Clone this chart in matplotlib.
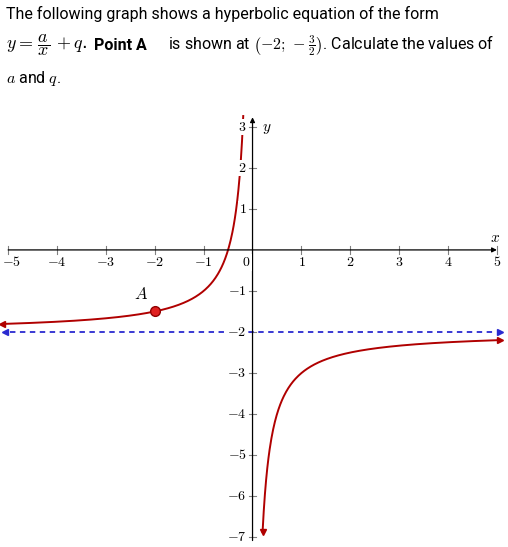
import numpy as np
import matplotlib.pyplot as plt

plt.rcParams['mathtext.fontset'] = 'cm'

a = -1
q = -2
point_a = (-2, -1.5)
x_ticks = [-5, -4, -3, -2, -1, 1, 2, 3, 4, 5]
y_ticks = [-7, -6, -5, -4, -3, -2, -1, 1, 2, 3]

fig = plt.figure(figsize=(5.08, 5.47), dpi=100)

# question text
fig.text(0.012, 0.975, "The following graph shows a hyperbolic equation of the form",
         fontsize=11.5, family='Roboto', va='center')
fig.text(0.012, 0.917, r"$y=\,\dfrac{a}{x}\,+q$.", fontsize=13, va='center')
fig.text(0.185, 0.917, "Point A", fontsize=11.5, family='Roboto', weight='bold', va='center')
fig.text(0.33, 0.917, r"is shown at $\left(-2;\,-\frac{3}{2}\right)$. Calculate the values of",
         fontsize=11.5, family='Roboto', va='center')
fig.text(0.012, 0.857, r"$a$ and $q$.", fontsize=11.5, family='Roboto', va='center')

ax = fig.add_axes([0, 0, 1, 437 / 547])
ax.set_xlim(-5.16, 5.22)
ax.set_ylim(-7.24, 3.41)
ax.axis('off')

# axes
ax.annotate('', xy=(5.05, 0), xytext=(-5.05, 0),
            arrowprops=dict(arrowstyle='-|>', color='black', lw=0.9, mutation_scale=7))
ax.annotate('', xy=(0, 3.3), xytext=(0, -7.15),
            arrowprops=dict(arrowstyle='-|>', color='black', lw=0.9, mutation_scale=7))
ax.text(4.85, 0.2, r'$x$', fontsize=11)
ax.text(0.2, 2.9, r'$y$', fontsize=11)

for t in x_ticks:
    ax.plot([t, t], [-0.1, 0.1], color='gray', lw=0.8)
    lx = -4.92 if t == -5 else t
    ax.text(lx, -0.3, r'$%d$' % t if t > 0 else r'$-%d$' % -t, ha='center', va='center', fontsize=10)
ax.text(-0.13, -0.3, r'$0$', ha='center', va='center', fontsize=10,
        bbox=dict(boxstyle='square,pad=0.1', fc='white', ec='none'))
for t in y_ticks:
    ax.plot([-0.08, 0.08], [t, t], color='gray', lw=0.8)
    ax.text(-0.12, t, r'$%d$' % t if t > 0 else r'$-%d$' % -t, ha='right', va='center', fontsize=10,
            bbox=dict(boxstyle='square,pad=0.05', fc='white', ec='none'))

# asymptote
ax.plot([-4.95, 4.95], [q, q], color='#2a2ad0', ls=(0, (3, 2.5)), lw=1.3)
ax.plot([-5.05], [q], marker='<', color='#2a2ad0', ms=4)
ax.plot([5.05], [q], marker='>', color='#2a2ad0', ms=4)

# hyperbola
xl = np.linspace(-5.1, -0.19, 400)
xr = np.linspace(0.205, 5.0, 400)
ax.plot(xl, a / xl + q, color='#b00000', lw=1.4)
ax.plot(xr, a / xr + q, color='#b00000', lw=1.4)
ax.plot([-5.12], [a / -5.12 + q], marker='<', color='#b00000', ms=4)
ax.plot([5.05], [a / 5.05 + q], marker='>', color='#b00000', ms=4)
ax.plot([0.205], [a / 0.205 + q], marker='v', color='#b00000', ms=4)

ax.plot(*point_a, 'o', color='#e02020', mec='#900000', ms=7)
ax.text(-2.42, -1.2, r'$A$', fontsize=12)

fig.savefig('out.png', dpi=100)
